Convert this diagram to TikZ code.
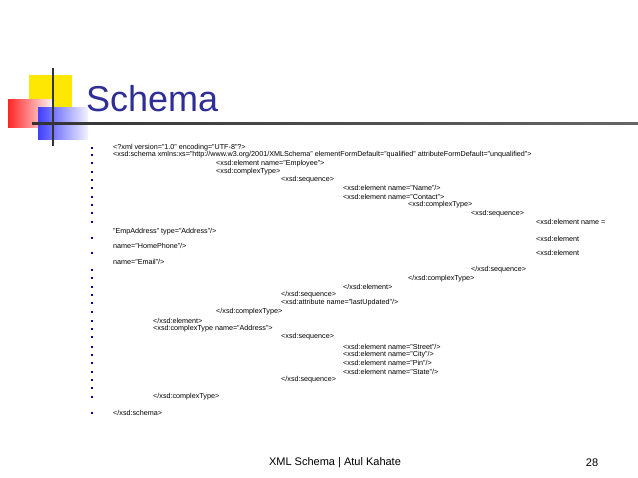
\documentclass[tikz,border=0pt]{standalone}
\usepackage{fontspec}
\setmainfont{Liberation Sans}
\begin{document}
\begin{tikzpicture}[x=1pt,y=-1pt,
  code/.style={anchor=west,inner sep=0pt,font=\fontsize{7.2}{8}\selectfont},
  bul/.style={fill=blue!70!black,inner sep=0pt,minimum size=2pt}]
\definecolor{navy}{HTML}{2E2E96}
\useasboundingbox (0,0) rectangle (638,478);
% decoration
\fill[yellow!90!orange] (29,75) rectangle (72,107);
\shade[left color=red!85,right color=red!5] (8,100) rectangle (52,128);
\shade[left color=blue!75,right color=blue!5] (38,108) rectangle (88,140);
\draw[line width=1.2pt,black!80] (53,68) -- (53,146);
\shade[left color=black!80,right color=black!60] (32,122.5) rectangle (638,124.5);
\node[anchor=base west,inner sep=0pt,text=navy,font=\fontsize{36}{40}\selectfont] (title) at (86,112) {Schema};
% bullets
\foreach \y [count=\i] in {147.7,155,163.3,171.7,180,188.3,196.7,205,213.5,222.3,238.5,252.7,270,278.3,286.7,295,303,312,320.7,329,337,346.7,354.7,363,371.7,380,388,396.7,413}
  \node[bul] (b\i) at (92,\y) {};
\node[code] (t1) at (113,147.7) {<?xml version="1.0" encoding="UTF-8"?>};
\node[code] (t2) at (113,155) {<xsd:schema xmlns:xs="http://www.w3.org/2001/XMLSchema" elementFormDefault="qualified" attributeFormDefault="unqualified">};
\node[code] (t3) at (216,163.3) {<xsd:element name="Employee">};
\node[code] (t4) at (216,171.7) {<xsd:complexType>};
\node[code] (t5) at (281,180) {<xsd:sequence>};
\node[code] (t6) at (343,188.3) {<xsd:element name="Name"/>};
\node[code] (t7) at (343,196.7) {<xsd:element name="Contact">};
\node[code] (t8) at (408,205) {<xsd:complexType>};
\node[code] (t9) at (471,213.5) {<xsd:sequence>};
\node[code] (t10) at (536,222.3) {<xsd:element name =};
\node[code] (t10b) at (113,231.5) {"EmpAddress" type="Address"/>};
\node[code] (t11) at (536,238.5) {<xsd:element};
\node[code] (t11b) at (113,245.5) {name="HomePhone"/>};
\node[code] (t12) at (536,252.7) {<xsd:element};
\node[code] (t12b) at (113,261.5) {name="Email"/>};
\node[code] (t13) at (471,270) {</xsd:sequence>};
\node[code] (t14) at (408,278.3) {</xsd:complexType>};
\node[code] (t15) at (343,286.7) {</xsd:element>};
\node[code] (t16) at (281,295) {</xsd:sequence>};
\node[code] (t17) at (281,303) {<xsd:attribute name="lastUpdated"/>};
\node[code] (t18) at (216,312) {</xsd:complexType>};
\node[code] (t19) at (153,320.7) {</xsd:element>};
\node[code] (t20) at (153,329) {<xsd:complexType name="Address">};
\node[code] (t21) at (281,337) {<xsd:sequence>};
\node[code] (t22) at (343,346.7) {<xsd:element name="Street"/>};
\node[code] (t23) at (343,354.7) {<xsd:element name="City"/>};
\node[code] (t24) at (343,363) {<xsd:element name="Pin"/>};
\node[code] (t25) at (343,371.7) {<xsd:element name="State"/>};
\node[code] (t26) at (281,380) {</xsd:sequence>};
\node[code] (t27) at (153,396.7) {</xsd:complexType>};
\node[code] (t28) at (113,413) {</xsd:schema>};
% footer
\node[font=\fontsize{11}{13}\selectfont,inner sep=0pt] (foot) at (335,463) {XML Schema | Atul Kahate};
\node[font=\fontsize{11}{13}\selectfont,inner sep=0pt] (pg) at (592,463) {28};
\end{tikzpicture}
\end{document}
